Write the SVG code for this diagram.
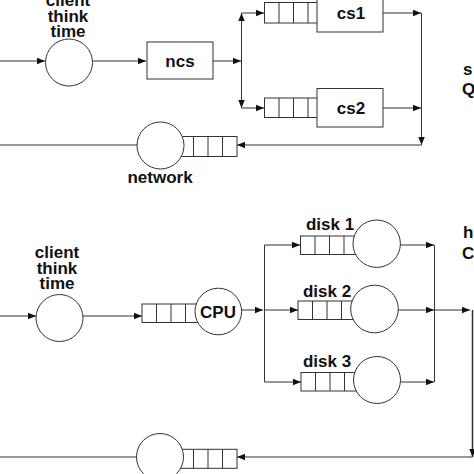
<svg xmlns="http://www.w3.org/2000/svg" width="474" height="474" viewBox="0 0 474 474">
<defs>
<marker id="ah" viewBox="0 0 10 10" refX="10" refY="5" markerWidth="8" markerHeight="8" markerUnits="userSpaceOnUse" orient="auto">
<path d="M0,1 L10,5 L0,9 z" fill="#111"/>
</marker>
<style>
.ln{fill:none;stroke:#333;stroke-width:1}
.ar{marker-end:url(#ah)}
.c{fill:#fff;stroke:#333;stroke-width:1}
.q{fill:#fff;stroke:#333;stroke-width:1}
.t{font-family:"Liberation Sans",Arial,sans-serif;font-weight:bold;font-size:17px;fill:#111;text-anchor:middle}
.tl{font-family:"Liberation Sans",Arial,sans-serif;font-weight:bold;font-size:17px;fill:#111}
</style>
</defs>
<rect width="474" height="474" fill="#fff"/>

<g id="connectors">
<path class="ln ar" d="M0,61 H45"/>
<path class="ln ar" d="M93,61 H146"/>
<path class="ln ar" d="M213,61 H241"/>
<path class="ln ar" d="M241.5,61 V13"/>
<path class="ln ar" d="M241.5,61 V108"/>
<path class="ln ar" d="M241.5,13 H264"/>
<path class="ln ar" d="M241.5,108 H264"/>
<path class="ln ar" d="M383,13 H421"/>
<path class="ln ar" d="M383,108 H421"/>
<path class="ln ar" d="M421.5,13 V145"/>
<path class="ln ar" d="M421.5,145 H237"/>
<path class="ln" d="M137,145 H0"/>
<path class="ln ar" d="M0,316 H36"/>
<path class="ln ar" d="M83,316 H142"/>
<path class="ln ar" d="M241,310 H263"/>
<path class="ln" d="M264.5,245 V382"/>
<path class="ln ar" d="M264.5,245 H300"/>
<path class="ln ar" d="M264.5,310 H298"/>
<path class="ln ar" d="M264.5,382 H301"/>
<path class="ln ar" d="M400,245 H434"/>
<path class="ln ar" d="M398,310 H434"/>
<path class="ln ar" d="M401,382 H434"/>
<path class="ln" d="M434.5,245 V382"/>
<path class="ln ar" d="M434.5,310 H470"/>
<path class="ln ar" d="M472.5,310 V457" style="stroke-width:1.5"/>
<path class="ln ar" d="M472.5,457 H237"/>
<path class="ln" d="M137,457 H0"/>
</g>

<g id="client-top">
<circle class="c" cx="69" cy="62.5" r="23.5"/>
<text class="t" x="68" y="6">client</text>
<text class="t" x="68" y="21.5">think</text>
<text class="t" x="68" y="36.5">time</text>
</g>

<g id="ncs">
<rect class="q" x="147" y="42" width="66" height="37"/>
<text class="t" x="180" y="67">ncs</text>
</g>

<g id="cs1">
<rect class="q" x="264.5" y="2.5" width="58" height="20.5"/>
<path class="ln" d="M279,2.5 V23 M293.5,2.5 V23 M308,2.5 V23"/>
<rect class="q" x="317" y="-6" width="66" height="38"/>
<text class="t" x="351" y="19">cs1</text>
</g>

<g id="cs2">
<rect class="q" x="264.5" y="98" width="58" height="19.5"/>
<path class="ln" d="M279,98 V117.5 M293.5,98 V117.5 M308,98 V117.5"/>
<rect class="q" x="317" y="88.5" width="66" height="38.5"/>
<text class="t" x="351" y="114">cs2</text>
</g>

<g id="network-top">
<rect class="q" x="179" y="136.5" width="58" height="20"/>
<path class="ln" d="M193.5,136.5 V156.5 M208,136.5 V156.5 M222.5,136.5 V156.5"/>
<circle class="c" cx="160.5" cy="145.5" r="23.5"/>
<text class="t" x="160" y="183">network</text>
</g>

<g id="label-top">
<text class="tl" x="463" y="75">s</text>
<text class="tl" x="462" y="95">Q</text>
</g>

<g id="client-bottom">
<circle class="c" cx="59.5" cy="318" r="23.5"/>
<text class="t" x="57" y="258">client</text>
<text class="t" x="57" y="274">think</text>
<text class="t" x="57" y="289">time</text>
</g>

<g id="cpu">
<rect class="q" x="142" y="304" width="58" height="18.5"/>
<path class="ln" d="M156.5,304 V322.5 M171,304 V322.5 M185.5,304 V322.5"/>
<circle class="c" cx="218.3" cy="311.5" r="23.3"/>
<text class="t" x="218" y="317.5">CPU</text>
</g>

<g id="disk1">
<rect class="q" x="300.5" y="236" width="58" height="18.5"/>
<path class="ln" d="M315,236 V254.5 M329.5,236 V254.5 M344,236 V254.5"/>
<circle class="c" cx="376.7" cy="243.7" r="23.7"/>
<text class="t" x="330" y="230">disk 1</text>
</g>

<g id="disk2">
<rect class="q" x="298" y="301" width="58" height="18.5"/>
<path class="ln" d="M312.5,301 V319.5 M327,301 V319.5 M341.5,301 V319.5"/>
<circle class="c" cx="374.5" cy="309" r="23.8"/>
<text class="t" x="327" y="297">disk 2</text>
</g>

<g id="disk3">
<rect class="q" x="301" y="372.5" width="58" height="18.5"/>
<path class="ln" d="M315.5,372.5 V391 M330,372.5 V391 M344.5,372.5 V391"/>
<circle class="c" cx="377" cy="380" r="23.5"/>
<text class="t" x="327" y="367">disk 3</text>
</g>

<g id="network-bottom">
<rect class="q" x="179" y="449.3" width="58" height="19"/>
<path class="ln" d="M193.5,449.3 V468.3 M208,449.3 V468.3 M222.5,449.3 V468.3"/>
<circle class="c" cx="160" cy="457" r="23.5"/>
</g>

<g id="label-bottom">
<text class="tl" x="463" y="238">h</text>
<text class="tl" x="462" y="259">C</text>
</g>
</svg>
